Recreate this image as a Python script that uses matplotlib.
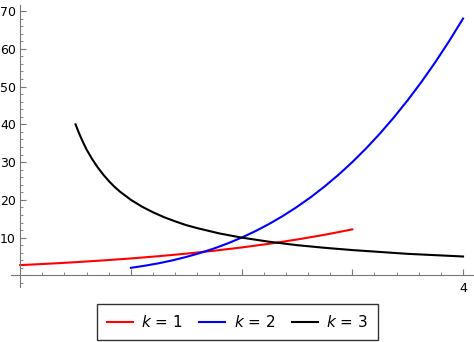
import numpy as np
import matplotlib
matplotlib.use('Agg')
import matplotlib.pyplot as plt
from matplotlib.ticker import FixedLocator, MultipleLocator, FixedFormatter

# values
x_k1 = [0, 0.25, 0.5, 0.75, 1.0, 1.25, 1.5, 1.75, 2.0, 2.25, 2.5, 2.75, 3.0]
y_k1 = [2.72, 3.08, 3.49, 3.96, 4.48, 5.08, 5.75, 6.52, 7.39, 8.37, 9.49, 10.75, 12.18]

x_k2 = [1.0, 1.125, 1.25, 1.375, 1.5, 1.625, 1.75, 1.875, 2.0, 2.125, 2.25, 2.375,
        2.5, 2.625, 2.75, 2.875, 3.0, 3.125, 3.25, 3.375, 3.5, 3.625, 3.75, 3.875, 4.0]
y_k2 = [2.0, 2.55, 3.2, 3.97, 4.88, 5.92, 7.11, 8.47, 10.0, 11.72, 13.64, 15.77,
        18.13, 20.71, 23.55, 26.64, 30.0, 33.64, 37.58, 41.82, 46.38, 51.26, 56.48,
        62.06, 68.0]

x_k3 = [0.5, 0.525, 0.55, 0.575, 0.6, 0.65, 0.7, 0.75, 0.8, 0.85, 0.9, 0.95, 1.0,
        1.1, 1.2, 1.3, 1.4, 1.5, 1.6, 1.8, 2.0, 2.25, 2.5, 2.75, 3.0, 3.5, 4.0]
y_k3 = [40.0, 38.1, 36.4, 34.8, 33.3, 30.8, 28.6, 26.7, 25.0, 23.5, 22.2, 21.1, 20.0,
        18.2, 16.7, 15.4, 14.3, 13.3, 12.5, 11.1, 10.0, 8.9, 8.0, 7.3, 6.7, 5.7, 5.0]

labels = ['$k$ = 1', '$k$ = 2', '$k$ = 3']
colors = ['red', 'blue', 'black']

xtick_major = [1, 2, 3, 4]
xtick_labels = ['', '', '', '4']
ytick_major = [10, 20, 30, 40, 50, 60, 70]

fig = plt.figure(figsize=(4.74, 3.42), dpi=100)
ax = fig.add_axes([0.0232, 0.1617, 0.9747, 0.8237])

for xs, ys, lab, c in zip([x_k1, x_k2, x_k3], [y_k1, y_k2, y_k3], labels, colors):
    ax.plot(xs, ys, color=c, lw=1.5, label=lab)

ax.set_xlim(-0.083, 4.09)
ax.set_ylim(-3.0, 71.6)

# axes through the origin, sage style
ax.spines['left'].set_position(('data', 0))
ax.spines['bottom'].set_position(('data', 0))
ax.spines['top'].set_visible(False)
ax.spines['right'].set_visible(False)
for s in ['left', 'bottom']:
    ax.spines[s].set_color('#777777')
    ax.spines[s].set_linewidth(0.8)

ax.xaxis.set_major_locator(FixedLocator(xtick_major))
ax.xaxis.set_major_formatter(FixedFormatter(xtick_labels))
ax.xaxis.set_minor_locator(MultipleLocator(0.2))
ax.yaxis.set_major_locator(FixedLocator(ytick_major))
ax.yaxis.set_minor_locator(MultipleLocator(2))

ax.tick_params(which='both', direction='in', color='#777777', labelsize=9,
               labelcolor='black')
ax.tick_params(which='major', length=4, width=0.8)
ax.tick_params(which='minor', length=2, width=0.6)
ax.tick_params(axis='x', pad=5)
ax.tick_params(axis='y', pad=3)

leg = fig.legend(loc='upper center', bbox_to_anchor=(0.501, 0.111), ncol=3,
                 fontsize=11, frameon=True, fancybox=False, edgecolor='black',
                 handlelength=1.7, handletextpad=0.55, columnspacing=1.1,
                 borderpad=0.65, borderaxespad=0)
leg.get_frame().set_linewidth(1.0)

fig.savefig('out.png', dpi=100)
